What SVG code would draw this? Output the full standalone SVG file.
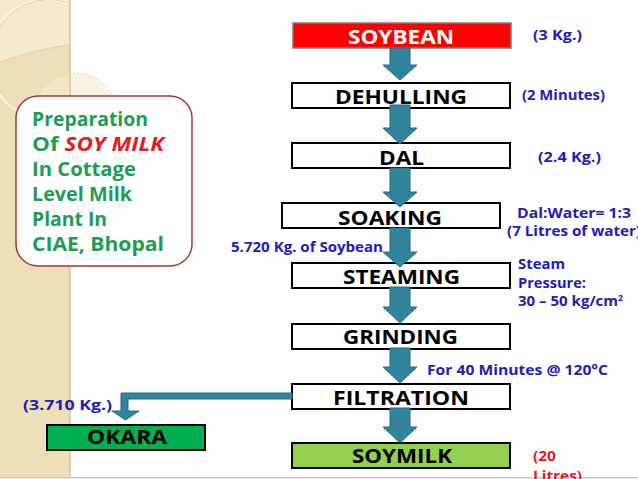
<svg xmlns="http://www.w3.org/2000/svg" width="638" height="479" viewBox="0 0 638 479">
<defs>
<style>
.box{fill:#ffffff;stroke:#000000;stroke-width:2}
.lbl{font-family:"Open Sans","Lato",sans-serif;font-weight:bold;font-size:19.5px;fill:#000000;text-anchor:middle}
.ann{font-family:"Open Sans","Lato",sans-serif;font-weight:bold;font-size:14px;fill:#2020b8}
.red{fill:#e0201c}
.ttl{font-family:"Open Sans","Lato",sans-serif;font-weight:bold;font-size:19px;fill:#1e9c52}
.arr{fill:#31849b;stroke:#236b80;stroke-width:1}
</style>
</defs>
<rect x="0" y="0" width="638" height="479" fill="#ffffff"/>
<g id="sidebar">
<rect x="0" y="0" width="70" height="477" fill="#eedfb8"/>
<path d="M0,0 H70 V45 C45,48 20,55 0,62 Z" fill="#f4ead0"/>
<path d="M0,62 C20,55 45,48 70,45" fill="none" stroke="#e3d2a6" stroke-width="1"/>
<path d="M68,3 A55,55 0 0 0 28,115" fill="none" stroke="#faf4e4" stroke-width="3"/>
<path d="M68,3 A55,55 0 0 0 28,115" fill="none" stroke="#d9c79a" stroke-width="0.8" transform="translate(1.5,0)"/>
<circle cx="75" cy="115" r="42" fill="#f3e9cf" fill-opacity="0.6" stroke="#d8c89e" stroke-width="0.8" stroke-dasharray="2 2"/>
<line x1="70" y1="0" x2="70" y2="477" stroke="#d6c59b" stroke-width="1.5"/>
</g>
<line x1="0" y1="477.5" x2="638" y2="477.5" stroke="#c8c8c8" stroke-width="1"/>
<rect x="0" y="478" width="638" height="1" fill="#e6e6e6"/>

<g id="title">
<rect x="16" y="96" width="176" height="170" rx="22" ry="22" fill="#ffffff" stroke="#b0343a" stroke-width="1.5"/>
<text class="ttl" x="32" y="126" textLength="116" lengthAdjust="spacingAndGlyphs">Preparation</text>
<text class="ttl" x="32" y="151" textLength="132" lengthAdjust="spacingAndGlyphs">Of <tspan fill="#e0201c" font-style="italic">SOY MILK</tspan></text>
<text class="ttl" x="32" y="176" textLength="104" lengthAdjust="spacingAndGlyphs">In Cottage</text>
<text class="ttl" x="32" y="201" textLength="100" lengthAdjust="spacingAndGlyphs">Level Milk</text>
<text class="ttl" x="32" y="226" textLength="75" lengthAdjust="spacingAndGlyphs">Plant In</text>
<text class="ttl" x="32" y="251" textLength="132" lengthAdjust="spacingAndGlyphs">CIAE, Bhopal</text>
</g>

<g id="soybean">
<rect x="293" y="23" width="218" height="25" fill="#ff0000" stroke="#7a7a7a" stroke-width="1.5"/>
<text class="lbl" x="401" y="44" style="fill:#ffffff" textLength="106" lengthAdjust="spacingAndGlyphs">SOYBEAN</text>
</g>
<g id="dehulling">
<rect class="box" x="292" y="83" width="218" height="25"/>
<text class="lbl" x="401" y="104" textLength="132" lengthAdjust="spacingAndGlyphs">DEHULLING</text>
</g>
<g id="dal">
<rect class="box" x="292" y="143" width="218" height="25"/>
<text class="lbl" x="401.5" y="165" textLength="45" lengthAdjust="spacingAndGlyphs">DAL</text>
</g>
<g id="soaking">
<rect class="box" x="282" y="203" width="218" height="25"/>
<text class="lbl" x="390" y="225" textLength="104" lengthAdjust="spacingAndGlyphs">SOAKING</text>
</g>
<g id="steaming">
<rect class="box" x="292" y="263" width="218" height="25"/>
<text class="lbl" x="401.5" y="284" textLength="117" lengthAdjust="spacingAndGlyphs">STEAMING</text>
</g>
<g id="grinding">
<rect class="box" x="292" y="324" width="218" height="25"/>
<text class="lbl" x="400.5" y="344" textLength="115" lengthAdjust="spacingAndGlyphs">GRINDING</text>
</g>
<g id="filtration">
<rect class="box" x="292" y="384" width="218" height="25"/>
<text class="lbl" x="401" y="405" textLength="136" lengthAdjust="spacingAndGlyphs">FILTRATION</text>
</g>
<g id="soymilk">
<rect x="292" y="443" width="218" height="25" fill="#92d050" stroke="#000000" stroke-width="2"/>
<text class="lbl" x="402" y="463" textLength="100" lengthAdjust="spacingAndGlyphs">SOYMILK</text>
</g>
<g id="okara">
<rect x="47" y="425" width="158" height="25" fill="#00b050" stroke="#000000" stroke-width="2"/>
<text class="lbl" x="127" y="444" textLength="80" lengthAdjust="spacingAndGlyphs">OKARA</text>
</g>

<g id="connectors">
<polygon class="arr" points="390,48 410,48 410,65 417,65 400,80 383,65 390,65"/>
<polygon class="arr" points="390,105 410,105 410,128 417,128 400,144 383,128 390,128"/>
<polygon class="arr" points="390,168 410,168 410,192 417,192 400,207 383,192 390,192"/>
<polygon class="arr" points="390,228 410,228 410,252 417,252 400,267 383,252 390,252"/>
<polygon class="arr" points="390,287 410,287 410,307 417,307 400,323 383,307 390,307"/>
<polygon class="arr" points="390,348 410,348 410,367 417,367 400,383 383,367 390,367"/>
<polygon class="arr" points="390,408 410,408 410,427 417,427 400,443 383,427 390,427"/>
<polygon class="arr" points="292,393 121,393 121,411 112,411 125.5,420 139,411 128,411 128,399 292,399"/>
</g>

<g id="annotations">
<text class="ann" x="533" y="40" textLength="49" lengthAdjust="spacingAndGlyphs">(3 Kg.)</text>
<text class="ann" x="522" y="100" textLength="83" lengthAdjust="spacingAndGlyphs">(2 Minutes)</text>
<text class="ann" x="538" y="162" textLength="63" lengthAdjust="spacingAndGlyphs">(2.4 Kg.)</text>
<text class="ann" x="517" y="218" textLength="114" lengthAdjust="spacingAndGlyphs">Dal:Water= 1:3</text>
<text class="ann" x="507" y="236" textLength="134" lengthAdjust="spacingAndGlyphs">(7 Litres of water)</text>
<text class="ann" x="231" y="252" textLength="152" lengthAdjust="spacingAndGlyphs">5.720 Kg. of Soybean</text>
<text class="ann" x="518" y="269" textLength="47" lengthAdjust="spacingAndGlyphs">Steam</text>
<text class="ann" x="518" y="288" textLength="68" lengthAdjust="spacingAndGlyphs">Pressure:</text>
<text class="ann" x="518" y="306" textLength="105" lengthAdjust="spacingAndGlyphs">30 – 50 kg/cm<tspan font-size="8" dy="-5">2</tspan></text>
<text class="ann" x="427" y="375" textLength="181" lengthAdjust="spacingAndGlyphs">For 40 Minutes @ 120°C</text>
<text class="ann" x="23" y="410" textLength="89" lengthAdjust="spacingAndGlyphs">(3.710 Kg.)</text>
<text class="ann red" x="533" y="461" textLength="23" lengthAdjust="spacingAndGlyphs">(20</text>
<text class="ann red" x="533" y="481" textLength="49" lengthAdjust="spacingAndGlyphs">Litres)</text>
</g>
</svg>
